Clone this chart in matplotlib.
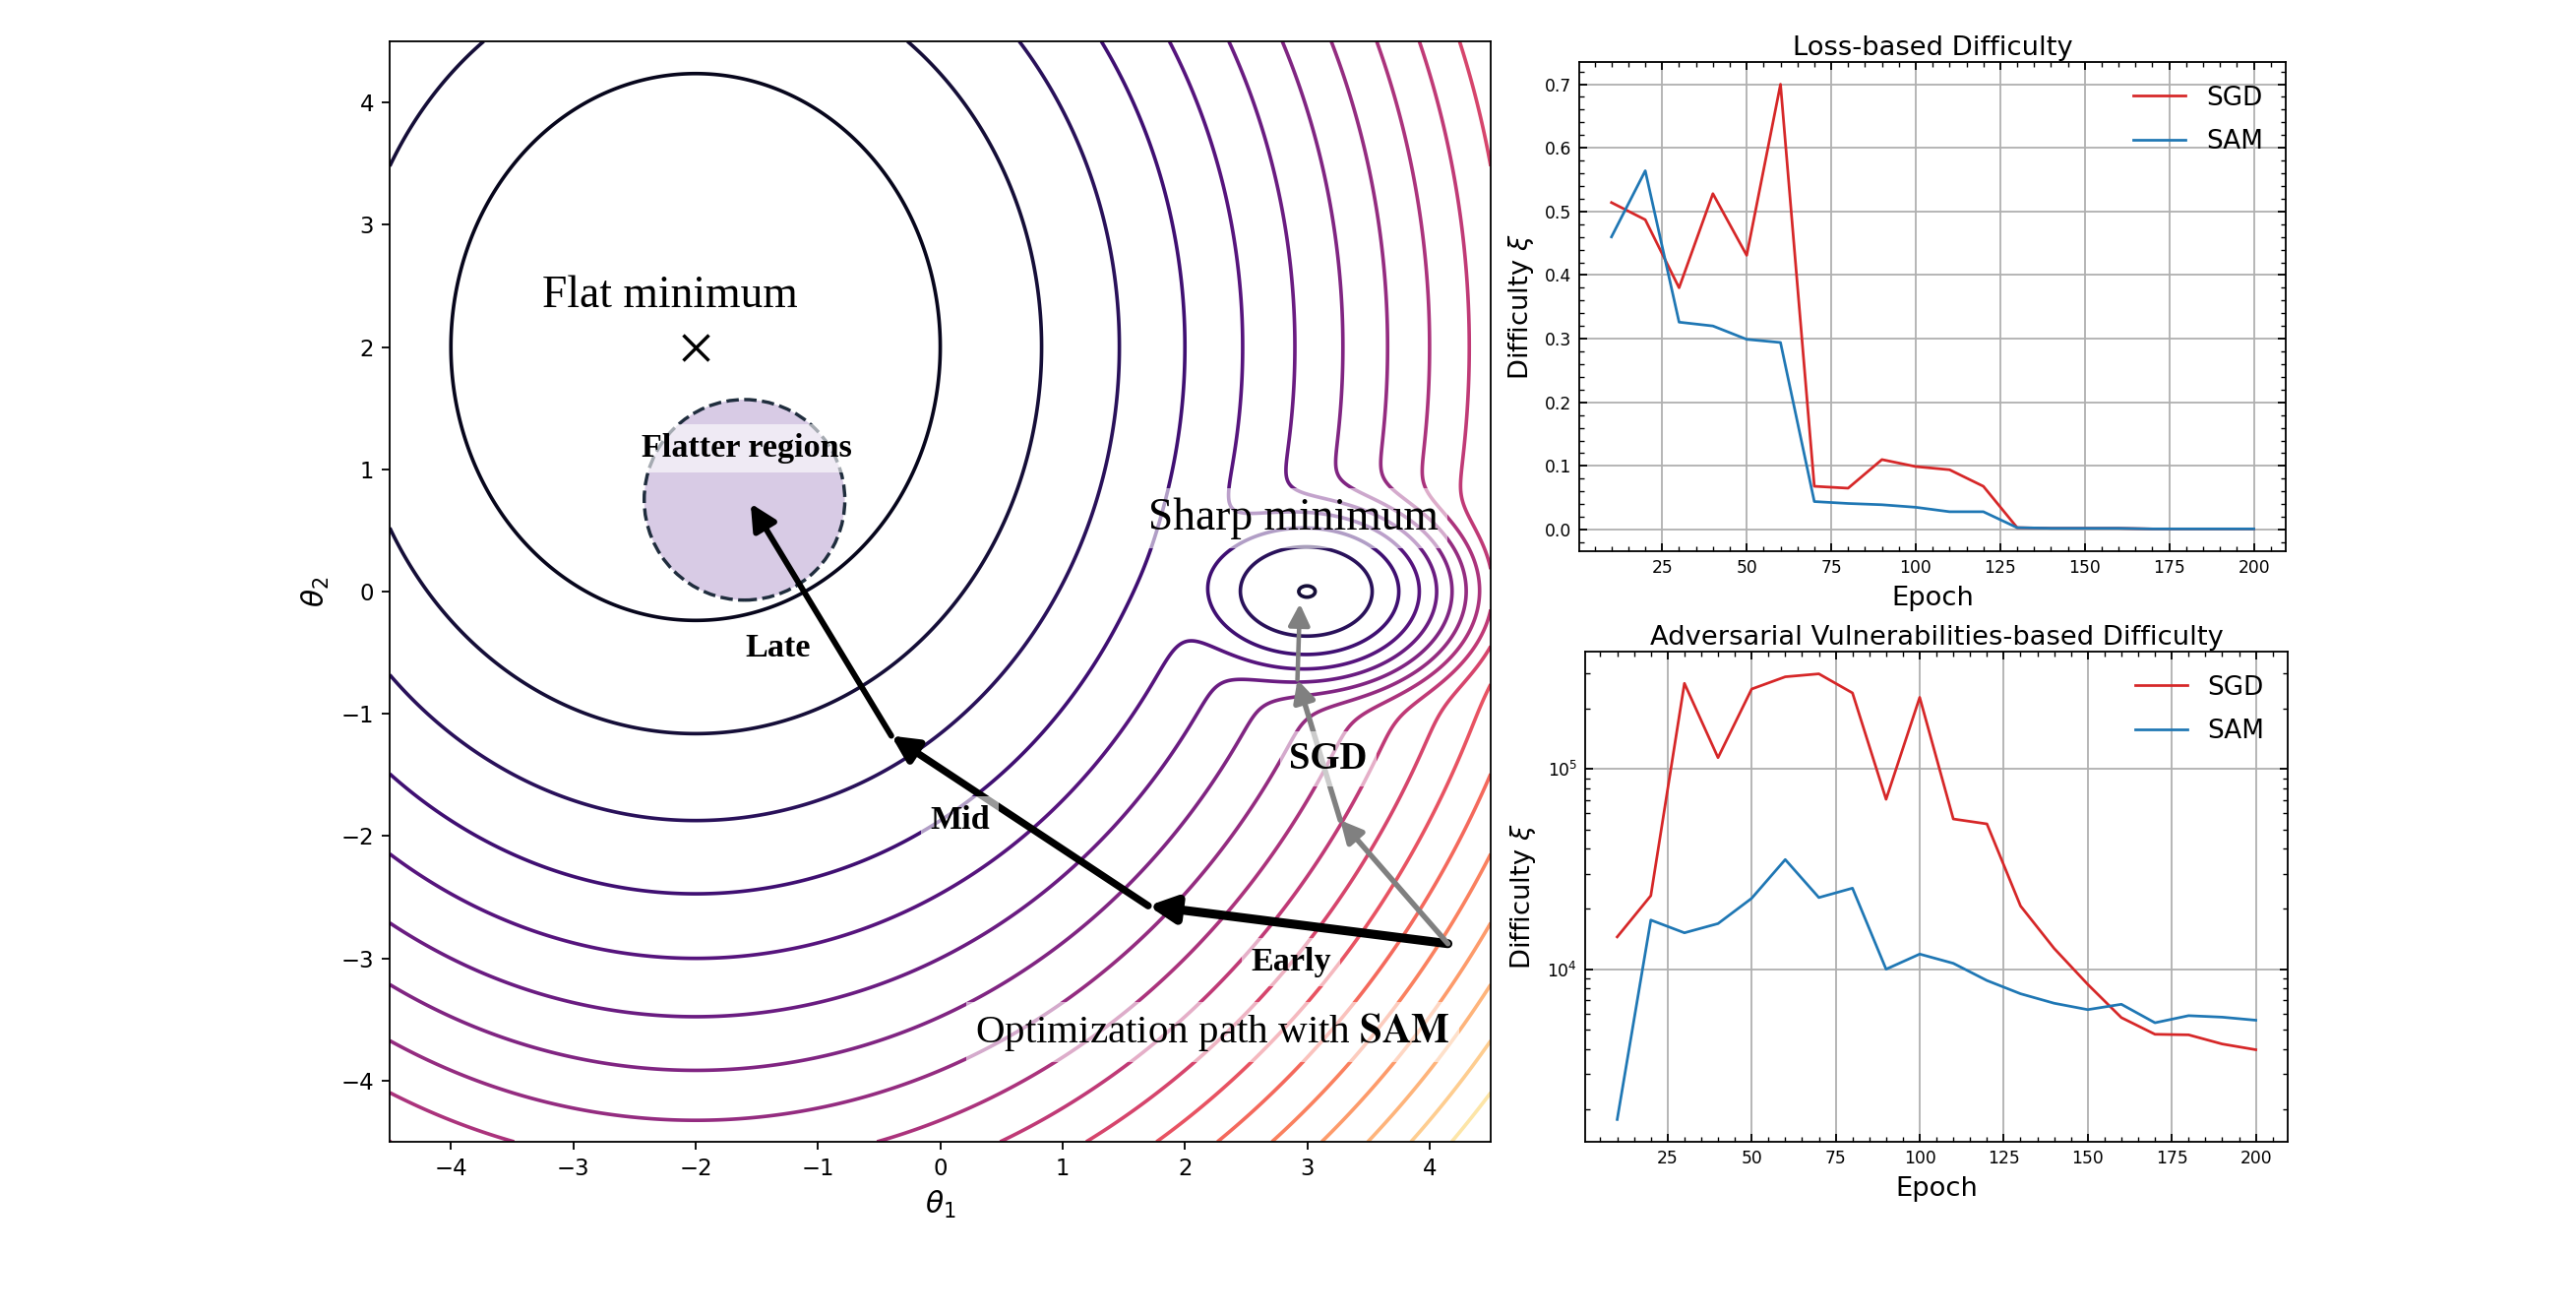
import numpy as np
import matplotlib
matplotlib.use("Agg")
import matplotlib.pyplot as plt
from matplotlib.patches import Circle

# ---- loss landscape (two wells, soft-min of two quadratics) ----
flat_center = (-2.0, 2.0)
flat_div = (4.0, 5.0)
sharp_center = (3.0, 0.0)
sharp_curv = (3.6, 7.7)
sharp_floor = 1.99
contour_levels = np.arange(1, 20)

# optimisation paths
sam_x = [4.15, 1.70, -0.40, -1.55]
sam_y = [-2.88, -2.57, -1.18, 0.72]
sam_lw = [4.0, 3.2, 2.6]
sgd_x = [4.15, 3.27, 2.92, 2.94]
sgd_y = [-2.88, -1.87, -0.72, -0.10]
sgd_lw = [2.4, 2.4, 2.0]

# difficulty curves
epochs = [10, 20, 30, 40, 50, 60, 70, 80, 90, 100,
          110, 120, 130, 140, 150, 160, 170, 180, 190, 200]
loss_sgd = [0.514, 0.487, 0.380, 0.528, 0.431, 0.700, 0.068, 0.065, 0.110, 0.099,
            0.094, 0.068, 0.003, 0.002, 0.002, 0.002, 0.001, 0.001, 0.001, 0.001]
loss_sam = [0.460, 0.564, 0.326, 0.320, 0.299, 0.294, 0.044, 0.041, 0.039, 0.035,
            0.028, 0.028, 0.003, 0.002, 0.002, 0.002, 0.001, 0.001, 0.001, 0.001]
adv_sgd = [14500, 23300, 268000, 114000, 251000, 289000, 299000, 240000, 70600, 228000,
           56300, 53200, 20700, 12700, 8400, 5730, 4730, 4700, 4230, 3960]
adv_sam = [1775, 17600, 15200, 16900, 22600, 35300, 22800, 25400, 10000, 11900,
           10700, 8780, 7540, 6760, 6280, 6680, 5400, 5860, 5760, 5560]

DPI = 164
fig = plt.figure(figsize=(2618 / DPI, 1337 / DPI), dpi=DPI)
ax = fig.add_axes([0.1513, 0.1324, 0.4274, 0.8362])
ax1 = fig.add_axes([0.6131, 0.5812, 0.2743, 0.3717])
ax2 = fig.add_axes([0.6154, 0.1324, 0.2727, 0.3725])

# ---- left: landscape ----
g = np.linspace(-4.5, 4.5, 700)
X, Y = np.meshgrid(g, g)
Q1 = (X - flat_center[0]) ** 2 / flat_div[0] + (Y - flat_center[1]) ** 2 / flat_div[1]
Q2 = sharp_floor + sharp_curv[0] * (X - sharp_center[0]) ** 2 + sharp_curv[1] * (Y - sharp_center[1]) ** 2
m = np.minimum(Q1, Q2)
Z = m - np.log(np.exp(-(Q1 - m)) + np.exp(-(Q2 - m)))

ax.contour(X, Y, Z, levels=contour_levels, cmap="magma", vmin=0, vmax=19,
           linewidths=1.6, zorder=1)
ax.set_xlim(-4.5, 4.5)
ax.set_ylim(-4.5, 4.5)
ax.set_xlabel(r"$\theta_1$", fontsize=13)
ax.set_ylabel(r"$\theta_2$", fontsize=13)
ax.tick_params(labelsize=10)

circ = Circle((-1.6, 0.75), 0.82, facecolor=(0.4, 0.2, 0.6, 0.25),
              edgecolor="#1f2d3d", linestyle="--", linewidth=1.5, zorder=2)
ax.add_patch(circ)

ax.plot(flat_center[0], flat_center[1], marker="x", ms=11, mew=1.5, color="black", zorder=3)

for i in range(3):
    ax.annotate("", xy=(sam_x[i + 1], sam_y[i + 1]), xytext=(sam_x[i], sam_y[i]),
                arrowprops=dict(arrowstyle="-|>", color="black", lw=sam_lw[i],
                                mutation_scale=24, shrinkA=0, shrinkB=0),
                zorder=3)
    ax.annotate("", xy=(sgd_x[i + 1], sgd_y[i + 1]), xytext=(sgd_x[i], sgd_y[i]),
                arrowprops=dict(arrowstyle="-|>", color="gray", lw=sgd_lw[i],
                                mutation_scale=20, shrinkA=0, shrinkB=0),
                zorder=3)

serif = "Liberation Serif"
box = dict(facecolor="white", alpha=0.6, edgecolor="none")
ax.text(-2.21, 2.42, "Flat minimum", fontsize=20, family=serif,
        ha="center", va="center", zorder=5)
ax.text(-1.58, 1.17, "Flatter regions", fontsize=15, family=serif, weight="bold",
        ha="center", va="center", bbox=box, zorder=5)
ax.text(2.885, 0.60, "Sharp minimum", fontsize=20, family=serif,
        ha="center", va="center", bbox=box, zorder=5)
ax.text(-1.33, -0.46, "Late", fontsize=15, family=serif, weight="bold",
        ha="center", va="center", bbox=box, zorder=5)
ax.text(0.16, -1.87, "Mid", fontsize=15, family=serif, weight="bold",
        ha="center", va="center", bbox=box, zorder=5)
ax.text(3.17, -1.37, "SGD", fontsize=17, family=serif, weight="bold",
        ha="center", va="center", bbox=box, zorder=5)
ax.text(2.87, -3.03, "Early", fontsize=15, family=serif, weight="bold",
        ha="center", va="center", bbox=box, zorder=5)
ax.text(2.23, -3.6, r"Optimization path with $\mathbf{SAM}$", fontsize=18,
        family=serif, math_fontfamily="stix", ha="center", va="center",
        bbox=box, zorder=5)

# ---- right: difficulty curves ----
ax2.set_yscale("log")
panels = [(ax1, loss_sgd, loss_sam, "Loss-based Difficulty"),
          (ax2, adv_sgd, adv_sam, "Adversarial Vulnerabilities-based Difficulty")]
for a, s1, s2, title in panels:
    a.plot(epochs, s1, color="#d62728", lw=1.2, label="SGD")
    a.plot(epochs, s2, color="#1f77b4", lw=1.2, label="SAM")
    a.grid(True, which="major", color="#b0b0b0", lw=0.8)
    if a is ax1:
        a.minorticks_on()
    else:
        a.xaxis.set_minor_locator(matplotlib.ticker.AutoMinorLocator())
    a.tick_params(which="both", direction="in", top=True, right=True, labelsize=7.5)
    a.tick_params(which="major", length=3.5)
    a.tick_params(which="minor", length=2)
    a.set_xlabel("Epoch", fontsize=12)
    a.set_ylabel(r"Difficulty $\xi$", fontsize=12)
    a.set_title(title, fontsize=12, pad=3)
    a.legend(frameon=False, fontsize=11.5, loc="upper right", labelspacing=0.7)

fig.savefig("out.png", dpi=DPI)
